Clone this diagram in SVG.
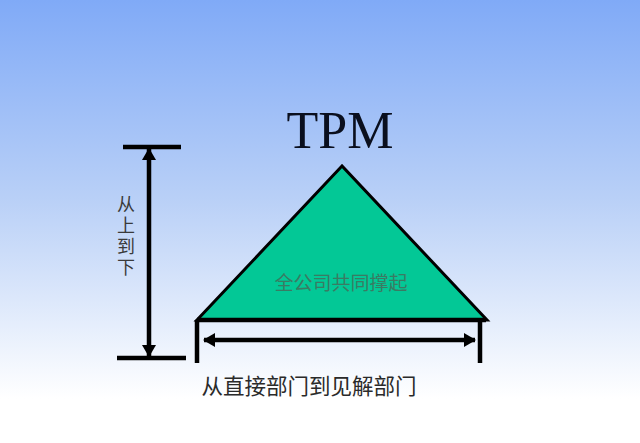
<svg xmlns="http://www.w3.org/2000/svg" width="640" height="443" viewBox="0 0 640 443">
<defs>
<linearGradient id="bg" x1="0" y1="0" x2="0" y2="1">
<stop offset="0" stop-color="#80aaf7"/>
<stop offset="0.45" stop-color="#b9d0f7"/>
<stop offset="0.9" stop-color="#ffffff"/>
<stop offset="1" stop-color="#ffffff"/>
</linearGradient>
<marker id="ah" viewBox="0 0 12 14" refX="11" refY="7" markerWidth="12" markerHeight="14" markerUnits="userSpaceOnUse" orient="auto-start-reverse">
<path d="M0,0 L12,7 L0,14 Z" fill="#000"/>
</marker>
<style>
.ln{stroke:#000;stroke-width:4.5;fill:none}
.cjk{font-family:"Noto Sans CJK SC","Liberation Sans",sans-serif}
.vt{writing-mode:vertical-rl;text-orientation:upright}
</style>
</defs>
<rect width="640" height="443" fill="url(#bg)"/>
<text x="340" y="148" font-family="Liberation Serif, serif" font-size="52" fill="#0a0f1e" text-anchor="middle">TPM</text>
<g id="triangle">
<polygon points="342,166 197,320 487,320" fill="#03c896" stroke="#000" stroke-width="3" stroke-linejoin="miter"/>
<line x1="197" y1="320" x2="486" y2="320" class="ln"/>
<text x="341" y="290" class="cjk" font-size="19" fill="#3a7b63" text-anchor="middle">全公司共同撑起</text>
</g>
<g id="connectors">
<line x1="123" y1="147" x2="181" y2="147" class="ln"/>
<line x1="117" y1="358" x2="186" y2="358" class="ln"/>
<line x1="149" y1="149" x2="149" y2="356" class="ln" marker-start="url(#ah)" marker-end="url(#ah)"/>
<line x1="197" y1="320" x2="197" y2="363" class="ln"/>
<line x1="480" y1="320" x2="480" y2="363" class="ln"/>
<line x1="204" y1="340" x2="475" y2="340" class="ln" marker-start="url(#ah)" marker-end="url(#ah)"/>
</g>
<g id="label-vertical">
<text x="126" y="195" class="cjk vt" font-size="18" letter-spacing="3" fill="#3a3a3a">从上到下</text>
</g>
<g id="label-bottom">
<text x="309" y="394" class="cjk" font-size="21.5" fill="#2a2a2a" text-anchor="middle">从直接部门到见解部门</text>
</g>
</svg>
